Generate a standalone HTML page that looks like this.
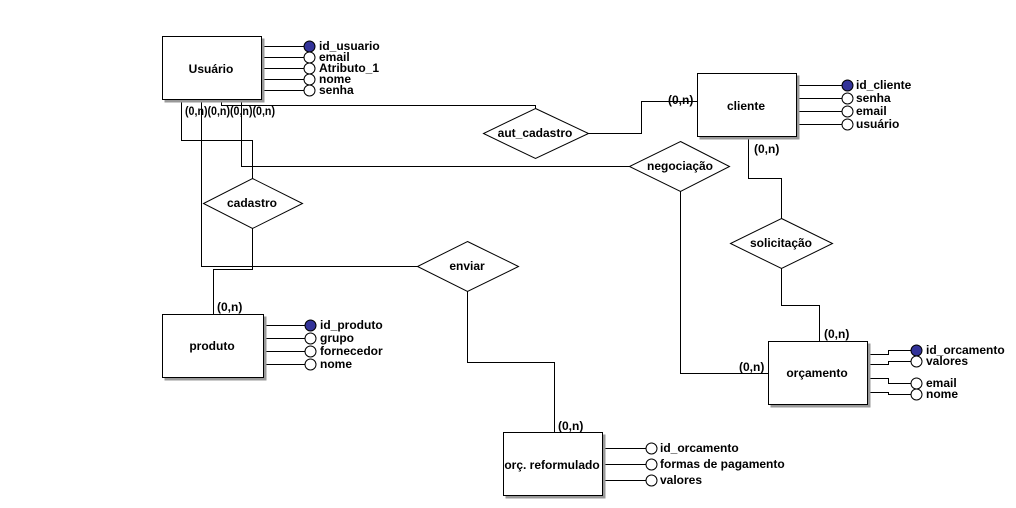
<!DOCTYPE html>
<html><head><meta charset="utf-8"><style>
html,body{margin:0;padding:0;background:#fff;}
svg text{font-family:"Liberation Sans",sans-serif;font-weight:bold;font-size:12px;fill:#000;}
</style></head><body>
<svg width="1016" height="503" viewBox="0 0 1016 503" xmlns="http://www.w3.org/2000/svg">
<g transform="translate(0.5,0.5)">
<g fill="none" stroke="#000" stroke-width="1">
<polyline points="181,99 181,140 252,140 252,178"/>
<polyline points="201,99 201,266 417,266"/>
<polyline points="221,99 221,105 535,105 535,108"/>
<polyline points="241,99 241,166 629,166"/>
<polyline points="252,228 252,269 213,269 213,314"/>
<polyline points="467,291 467,362 554,362 554,432"/>
<polyline points="588,133 641,133 641,101 697,101"/>
<polyline points="748,136 748,178 781,178 781,218"/>
<polyline points="781,268 781,305 819,305 819,341"/>
<polyline points="680,191 680,373 768,373"/>
<line x1="263" y1="46" x2="304" y2="46"/><line x1="263" y1="57" x2="304" y2="57"/><line x1="263" y1="68" x2="304" y2="68"/><line x1="263" y1="79" x2="304" y2="79"/><line x1="263" y1="90" x2="304" y2="90"/>
<line x1="799" y1="85" x2="842" y2="85"/><line x1="799" y1="98" x2="842" y2="98"/><line x1="799" y1="111" x2="842" y2="111"/><line x1="799" y1="124" x2="842" y2="124"/>
<line x1="265" y1="325" x2="305" y2="325"/><line x1="265" y1="338" x2="305" y2="338"/><line x1="265" y1="351" x2="305" y2="351"/><line x1="265" y1="364" x2="305" y2="364"/>
<line x1="605" y1="448" x2="646" y2="448"/><line x1="605" y1="464" x2="646" y2="464"/><line x1="605" y1="480" x2="646" y2="480"/>
<polyline points="869,354 888,354 888,350 911,350"/>
<polyline points="869,364 888,364 888,361 911,361"/>
<polyline points="869,378 888,378 888,383 911,383"/>
<polyline points="869,392 888,392 888,394 911,394"/>
</g>
<g fill="#999">
<rect x="164" y="38" width="100" height="64"/>
<rect x="699" y="75" width="100" height="64"/>
<rect x="164" y="316" width="102" height="64"/>
<rect x="505" y="434" width="100" height="64"/>
<rect x="770" y="343" width="100" height="64"/>
</g>
<g fill="#fff" stroke="#000" stroke-width="1">
<rect x="162" y="36" width="99" height="63"/>
<rect x="697" y="73" width="99" height="63"/>
<rect x="162" y="314" width="101" height="63"/>
<rect x="503" y="432" width="99" height="63"/>
<rect x="768" y="341" width="99" height="63"/>
</g>
<g fill="#fff" stroke="#000" stroke-width="1">
<polygon points="535,108 588,133 535,158 483,133"/>
<polygon points="252,178 302,203 252,228 203,203"/>
<polygon points="467,241 518,266 467,291 417,266"/>
<polygon points="680,141 729,166 680,191 629,166"/>
<polygon points="781,218 832,243 781,268 730,243"/>
</g>
<g stroke="#000" stroke-width="1" fill="#fff">
<circle cx="309" cy="57" r="5.5"/><circle cx="309" cy="68" r="5.5"/><circle cx="309" cy="79" r="5.5"/><circle cx="309" cy="90" r="5.5"/>
<circle cx="309" cy="46" r="5.5" fill="#333399"/>
<circle cx="847" cy="98" r="5.5"/><circle cx="847" cy="111" r="5.5"/><circle cx="847" cy="124" r="5.5"/>
<circle cx="847" cy="85" r="5.5" fill="#333399"/>
<circle cx="310" cy="338" r="5.5"/><circle cx="310" cy="351" r="5.5"/><circle cx="310" cy="364" r="5.5"/>
<circle cx="310" cy="325" r="5.5" fill="#333399"/>
<circle cx="651" cy="448" r="5.5"/><circle cx="651" cy="464" r="5.5"/><circle cx="651" cy="480" r="5.5"/>
<circle cx="916" cy="361" r="5.5"/><circle cx="916" cy="383" r="5.5"/><circle cx="916" cy="394" r="5.5"/>
<circle cx="916" cy="350" r="5.5" fill="#333399"/>
</g>
</g>
<g text-anchor="middle">
<text x="211" y="73">Usuário</text>
<text x="746" y="110">cliente</text>
<text x="212" y="350">produto</text>
<text x="552" y="469">orç. reformulado</text>
<text x="817" y="377">orçamento</text>
<text x="535" y="137">aut_cadastro</text>
<text x="252" y="207">cadastro</text>
<text x="467" y="270">enviar</text>
<text x="680" y="170">negociação</text>
<text x="781" y="247">solicitação</text>
</g>
<g>
<text x="319" y="50">id_usuario</text><text x="319" y="61">email</text><text x="319" y="72">Atributo_1</text><text x="319" y="83">nome</text><text x="319" y="94">senha</text>
<text x="856" y="89">id_cliente</text><text x="856" y="102">senha</text><text x="856" y="115">email</text><text x="856" y="128">usuário</text>
<text x="320" y="329">id_produto</text><text x="320" y="342">grupo</text><text x="320" y="355">fornecedor</text><text x="320" y="368">nome</text>
<text x="660" y="452">id_orcamento</text><text x="660" y="468">formas de pagamento</text><text x="660" y="484">valores</text>
<text x="926" y="354">id_orcamento</text><text x="926" y="365">valores</text><text x="926" y="387">email</text><text x="926" y="398">nome</text>
<text x="185" y="115" textLength="90" lengthAdjust="spacingAndGlyphs">(0,n)(0,n)(0,n)(0,n)</text>
<text x="668" y="104">(0,n)</text>
<text x="754" y="153">(0,n)</text>
<text x="824" y="338">(0,n)</text>
<text x="739" y="371">(0,n)</text>
<text x="217" y="311">(0,n)</text>
<text x="558" y="430">(0,n)</text>
</g>
</svg>
</body></html>
